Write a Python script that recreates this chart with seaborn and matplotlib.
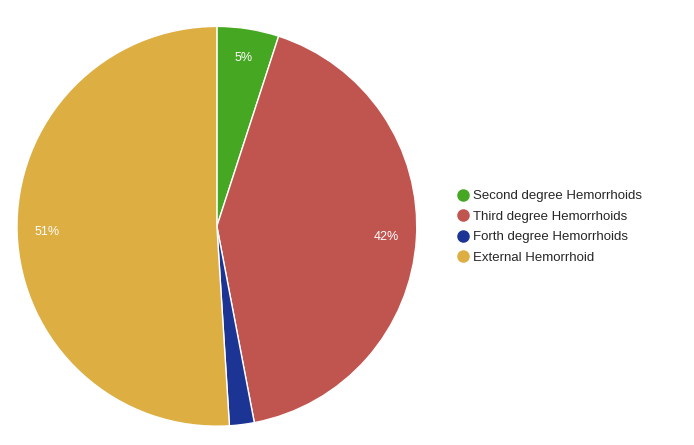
import matplotlib
matplotlib.use("Agg")
import matplotlib.pyplot as plt
import seaborn as sns
from matplotlib.lines import Line2D

sns.set_style("white")
plt.rcParams['font.family'] = ['Liberation Sans', 'DejaVu Sans']

categories = ["Second degree Hemorrhoids", "Third degree Hemorrhoids",
              "Forth degree Hemorrhoids", "External Hemorrhoid"]
values = [5, 42, 2, 51]
colors = ["#46a822", "#c05550", "#1c3594", "#ddae42"]

fig = plt.figure(figsize=(6.94, 4.45), dpi=100)
ax = fig.add_axes([0.0245, 0.042, 0.576, 0.899])
wedges, texts, autotexts = ax.pie(values, colors=colors, startangle=90, counterclock=False,
       autopct=lambda p: f"{p:.0f}%" if p >= 4 else "", pctdistance=0.85,
       wedgeprops=dict(edgecolor="white", linewidth=1))
for t in autotexts:
    t.set_color("white"); t.set_fontsize(9)
ax.set_xlim(-1, 1); ax.set_ylim(-1, 1)
ax.set_aspect("equal")
ax.axis("off")

handles = [Line2D([], [], marker='o', linestyle='', markersize=8, markerfacecolor=c,
                  markeredgecolor=c) for c in colors]
fig.legend(handles, categories, loc="center left", bbox_to_anchor=(0.64, 0.49),
           frameon=False, fontsize=9.5, handletextpad=0.3, labelspacing=0.62,
           handlelength=1.0)
fig.savefig("out.png", dpi=100)
